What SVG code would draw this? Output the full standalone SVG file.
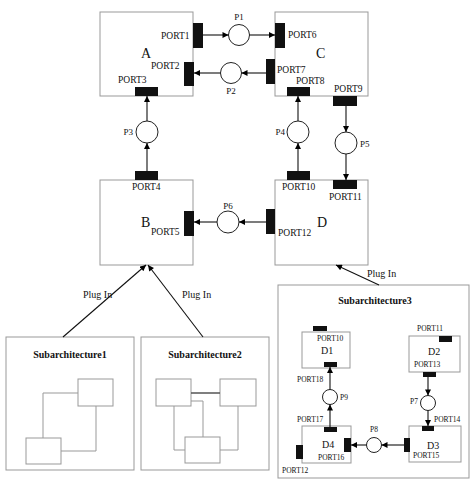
<svg xmlns="http://www.w3.org/2000/svg" width="474" height="482" viewBox="0 0 474 482">
<defs>
<marker id="ah" viewBox="0 0 10 10" refX="10" refY="5" markerWidth="7" markerHeight="6" markerUnits="userSpaceOnUse" orient="auto">
<path d="M0,0 L10,5 L0,10 z" fill="#000"/>
</marker>
<style>
.box{fill:#fff;stroke:#999;stroke-width:1}
.port{fill:#111;stroke:none}
.place{fill:#fff;stroke:#222;stroke-width:1}
.conn{stroke:#111;stroke-width:1.1;fill:none;marker-end:url(#ah)}
.wire{stroke:#999;stroke-width:1;fill:none}
.t{font-family:"Liberation Serif","Times New Roman",serif;fill:#111}
.pl{font-size:9.5px}
.sp{font-size:7.5px}
.pn{font-size:9px}
.big{font-size:14px}
.mid{font-size:10px}
.title{font-size:10px;font-weight:bold}
</style>
</defs>
<rect width="474" height="482" fill="#fff"/>

<g id="A">
<rect class="box" x="100" y="12" width="93" height="84"/>
<text class="t big" x="141" y="58">A</text>
<rect class="port" x="193" y="23" width="10" height="25"/>
<text class="t pl" x="161" y="39">PORT1</text>
<rect class="port" x="184" y="62" width="10" height="24"/>
<text class="t pl" x="151" y="69">PORT2</text>
<rect class="port" x="135" y="87" width="23" height="9"/>
<text class="t pl" x="118" y="83">PORT3</text>
</g>

<g id="C">
<rect class="box" x="275" y="12" width="93" height="84"/>
<text class="t big" x="316" y="58">C</text>
<rect class="port" x="275" y="23" width="10" height="25"/>
<text class="t pl" x="288" y="38">PORT6</text>
<rect class="port" x="266" y="59" width="9" height="25"/>
<text class="t pl" x="277" y="73">PORT7</text>
<rect class="port" x="287" y="87" width="23" height="9"/>
<text class="t pl" x="296" y="84">PORT8</text>
<rect class="port" x="333" y="96" width="24" height="10"/>
<text class="t pl" x="334" y="92">PORT9</text>
</g>

<g id="B">
<rect class="box" x="100" y="180" width="93" height="85"/>
<text class="t big" x="141" y="227">B</text>
<rect class="port" x="135" y="171" width="23" height="9"/>
<text class="t pl" x="132" y="190">PORT4</text>
<rect class="port" x="184" y="211" width="10" height="25"/>
<text class="t pl" x="151" y="235">PORT5</text>
</g>

<g id="D">
<rect class="box" x="275" y="180" width="93" height="85"/>
<text class="t big" x="317" y="227">D</text>
<rect class="port" x="287" y="171" width="23" height="9"/>
<text class="t pl" x="282" y="190">PORT10</text>
<rect class="port" x="333" y="180" width="24" height="9"/>
<text class="t pl" x="329" y="200">PORT11</text>
<rect class="port" x="266" y="209" width="9" height="25"/>
<text class="t pl" x="278" y="236">PORT12</text>
</g>

<g id="places">
<g id="P1"><circle class="place" cx="239" cy="35" r="10.5"/><text class="t pn" x="239" y="20" text-anchor="middle">P1</text></g>
<g id="P2"><circle class="place" cx="231" cy="73" r="10.5"/><text class="t pn" x="231" y="94" text-anchor="middle">P2</text></g>
<g id="P3"><circle class="place" cx="147" cy="132" r="11"/><text class="t pn" x="133" y="135" text-anchor="end">P3</text></g>
<g id="P4"><circle class="place" cx="298" cy="132" r="11"/><text class="t pn" x="285" y="135" text-anchor="end">P4</text></g>
<g id="P5"><circle class="place" cx="346" cy="143" r="11"/><text class="t pn" x="360" y="147">P5</text></g>
<g id="P6"><circle class="place" cx="228" cy="222" r="11"/><text class="t pn" x="228" y="209" text-anchor="middle">P6</text></g>
</g>

<g id="Sub1">
<rect class="box" x="6" y="337" width="128" height="133"/>
<text class="t title" x="70" y="358" text-anchor="middle">Subarchitecture1</text>
<rect class="box" x="78" y="379" width="35" height="27"/>
<rect class="box" x="26" y="438" width="35" height="26"/>
<path class="wire" d="M78,393 H43 V438"/>
<path class="wire" d="M61,451 H96 V406"/>
</g>

<g id="Sub2">
<rect class="box" x="141" y="337" width="128" height="133"/>
<text class="t title" x="205" y="358" text-anchor="middle">Subarchitecture2</text>
<rect class="box" x="156" y="379" width="35" height="27"/>
<rect class="box" x="220" y="379" width="36" height="27"/>
<rect class="box" x="185" y="437" width="35" height="26"/>
<line x1="191" y1="393" x2="220" y2="393" stroke="#555" stroke-width="1.5"/>
<path class="wire" d="M174,406 V450 H185"/>
<path class="wire" d="M191,401 H203 V437"/>
<path class="wire" d="M238,406 V450 H220"/>
</g>

<g id="Sub3">
<rect class="box" x="278" y="285" width="191" height="193"/>
<text class="t title" x="375" y="304" text-anchor="middle">Subarchitecture3</text>
<g id="D1">
<rect class="box" x="302" y="332" width="48" height="36"/>
<rect class="port" x="313" y="326" width="14" height="5"/>
<text class="t sp" x="317" y="341">PORT10</text>
<text class="t mid" x="321" y="354">D1</text>
<rect class="port" x="324" y="362" width="13" height="5"/>
<text class="t sp" x="297" y="382">PORT18</text>
</g>
<g id="D2">
<rect class="box" x="409" y="336" width="51" height="36"/>
<rect class="port" x="439" y="336" width="13" height="6"/>
<text class="t sp" x="417" y="331">PORT11</text>
<text class="t mid" x="428" y="355">D2</text>
<text class="t sp" x="414" y="367">PORT13</text>
<rect class="port" x="423" y="372" width="13" height="5"/>
</g>
<g id="D3">
<rect class="box" x="409" y="426" width="52" height="36"/>
<rect class="port" x="422" y="426" width="12" height="5"/>
<text class="t sp" x="434" y="422">PORT14</text>
<rect class="port" x="404" y="438" width="6" height="14"/>
<text class="t mid" x="427" y="449">D3</text>
<text class="t sp" x="413" y="458">PORT15</text>
</g>
<g id="D4">
<rect class="box" x="302" y="426" width="49" height="37"/>
<rect class="port" x="324" y="427" width="13" height="5"/>
<text class="t sp" x="297" y="422">PORT17</text>
<rect class="port" x="344" y="438" width="7" height="14"/>
<text class="t mid" x="322" y="448">D4</text>
<text class="t sp" x="318" y="460">PORT16</text>
<rect class="port" x="296" y="445" width="7" height="14"/>
<text class="t sp" x="282" y="473">PORT12</text>
</g>
<g id="P7"><circle class="place" cx="428" cy="403" r="7.5"/><text class="t sp" x="418" y="404" text-anchor="end">P7</text></g>
<g id="P8"><circle class="place" cx="374" cy="445" r="7.5"/><text class="t sp" x="374" y="432" text-anchor="middle">P8</text></g>
<g id="P9"><circle class="place" cx="330" cy="397" r="7.5"/><text class="t sp" x="340" y="400">P9</text></g>
</g>

<g id="connectors">
<line class="conn" x1="203" y1="35" x2="228.5" y2="35"/>
<line class="conn" x1="249.5" y1="35" x2="275" y2="35"/>
<line class="conn" x1="266" y1="73" x2="241.5" y2="73"/>
<line class="conn" x1="220.5" y1="73" x2="194" y2="73"/>
<line class="conn" x1="147" y1="171" x2="147" y2="143"/>
<line class="conn" x1="147" y1="121" x2="147" y2="96"/>
<line class="conn" x1="298" y1="171" x2="298" y2="143"/>
<line class="conn" x1="298" y1="121" x2="298" y2="96"/>
<line class="conn" x1="346" y1="106" x2="346" y2="132"/>
<line class="conn" x1="346" y1="154" x2="346" y2="180"/>
<line class="conn" x1="266" y1="222" x2="239" y2="222"/>
<line class="conn" x1="217" y1="222" x2="194" y2="222"/>
<line class="conn" x1="63" y1="337" x2="146" y2="265"/>
<line class="conn" x1="203" y1="337" x2="148" y2="265"/>
<line class="conn" x1="379" y1="285" x2="336" y2="265"/>
<line class="conn" x1="428" y1="377" x2="428" y2="395.5"/>
<line class="conn" x1="428" y1="410.5" x2="428" y2="426"/>
<line class="conn" x1="404" y1="445" x2="381.5" y2="445"/>
<line class="conn" x1="366.5" y1="445" x2="351" y2="445"/>
<line class="conn" x1="330" y1="427" x2="330" y2="404.5"/>
<line class="conn" x1="330" y1="389.5" x2="330" y2="367"/>
<text class="t mid" x="83" y="298">Plug In</text>
<text class="t mid" x="182" y="298">Plug In</text>
<text class="t mid" x="367" y="277">Plug In</text>
</g>
</svg>
